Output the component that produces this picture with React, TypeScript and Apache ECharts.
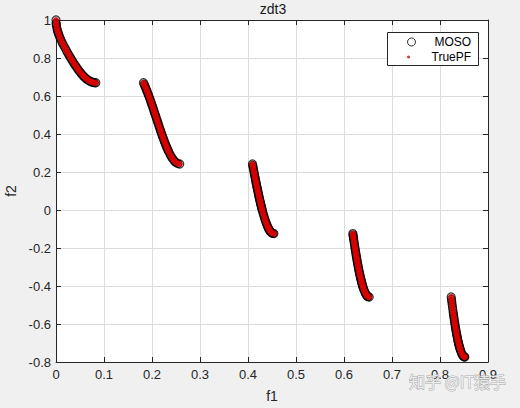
import React, { useEffect, useRef } from 'react';
import * as echarts from 'echarts';

// Pareto front segments: [f1, f2]
const seg1: number[][] = [
  [0, 1], [0.00025, 0.9842], [0.0005, 0.9776], [0.001, 0.9684], [0.002, 0.9552], [0.003, 0.9449],
  [0.004, 0.9362], [0.005, 0.9285], [0.0065, 0.9181], [0.008, 0.9086], [0.01, 0.8969],
  [0.0125, 0.8834], [0.015, 0.8707], [0.0175, 0.8586], [0.02, 0.8468], [0.0225, 0.8354],
  [0.025, 0.8242], [0.0275, 0.8133], [0.03, 0.8025], [0.0325, 0.792], [0.035, 0.7817],
  [0.0375, 0.7717], [0.04, 0.762], [0.0425, 0.7525], [0.045, 0.7434], [0.0475, 0.7347],
  [0.05, 0.7264], [0.0525, 0.7185], [0.055, 0.7112], [0.0575, 0.7043], [0.06, 0.698],
  [0.0625, 0.6923], [0.065, 0.6871], [0.0675, 0.6826], [0.07, 0.6788], [0.0725, 0.6756],
  [0.075, 0.6731], [0.0775, 0.6713], [0.08, 0.6701], [0.083, 0.6697],
];
const seg2: number[][] = [
  [0.1822, 0.6698], [0.1836, 0.662], [0.185, 0.6539], [0.18625, 0.6464], [0.1875, 0.6388],
  [0.18875, 0.6309], [0.19, 0.6228], [0.19125, 0.6146], [0.1925, 0.6062], [0.19375, 0.5976],
  [0.195, 0.5889], [0.19625, 0.5801], [0.1975, 0.5711], [0.19875, 0.562], [0.2, 0.5528],
  [0.20125, 0.5435], [0.2025, 0.5341], [0.20375, 0.5247], [0.205, 0.5151], [0.20625, 0.5056],
  [0.2075, 0.4961], [0.20875, 0.4865], [0.21, 0.4768], [0.21125, 0.4673], [0.2125, 0.4577],
  [0.21375, 0.4482], [0.215, 0.4387], [0.21625, 0.4293], [0.2175, 0.42], [0.21875, 0.4108],
  [0.22, 0.4017], [0.22125, 0.3926], [0.2225, 0.3838], [0.22375, 0.3751], [0.225, 0.3666],
  [0.22625, 0.3582], [0.2275, 0.35], [0.22875, 0.3421], [0.23, 0.3343], [0.23125, 0.3268],
  [0.2325, 0.3196], [0.23375, 0.3126], [0.235, 0.3058], [0.2375, 0.2932], [0.24, 0.2818],
  [0.2425, 0.2718], [0.245, 0.263], [0.2475, 0.2558], [0.25, 0.25], [0.254, 0.244], [0.2578, 0.2422],
];
const seg3: number[][] = [
  [0.4093, 0.2424], [0.4099, 0.2343], [0.4105, 0.2263], [0.41125, 0.2164], [0.412, 0.2064],
  [0.41275, 0.1966], [0.4135, 0.1869], [0.41425, 0.1771], [0.415, 0.1674], [0.415625, 0.1594],
  [0.41625, 0.1514], [0.416875, 0.1435], [0.4175, 0.1358], [0.418125, 0.128], [0.41875, 0.1202],
  [0.419375, 0.1126], [0.42, 0.105], [0.420625, 0.0976], [0.42125, 0.0902], [0.421875, 0.0828],
  [0.4225, 0.0756], [0.423125, 0.0684], [0.42375, 0.0614], [0.424375, 0.0544], [0.425, 0.0476],
  [0.425625, 0.0408], [0.42625, 0.0341], [0.426875, 0.0276], [0.4275, 0.0211], [0.428125, 0.0148],
  [0.42875, 0.0086], [0.429375, 0.0025], [0.43, -0.0036], [0.43125, -0.0153], [0.4325, -0.0263],
  [0.43375, -0.037], [0.435, -0.0471], [0.43625, -0.0566], [0.4375, -0.0656], [0.43875, -0.0739],
  [0.44, -0.0818], [0.44125, -0.0888], [0.4425, -0.0955], [0.44375, -0.1014], [0.445, -0.1066],
  [0.44625, -0.1112], [0.4475, -0.1151], [0.44875, -0.1183], [0.45, -0.1208], [0.452, -0.1234],
  [0.4539, -0.1242],
];
const seg4: number[][] = [
  [0.6184, -0.1242], [0.618825, -0.1317], [0.61925, -0.139], [0.619625, -0.1455], [0.62, -0.1518],
  [0.620625, -0.1623], [0.62125, -0.1729], [0.621875, -0.1831], [0.6225, -0.1933], [0.623125, -0.2034],
  [0.62375, -0.2132], [0.624375, -0.2229], [0.625, -0.2325], [0.625625, -0.2419], [0.62625, -0.2513],
  [0.626875, -0.2603], [0.6275, -0.2693], [0.628125, -0.2781], [0.62875, -0.2865], [0.629375, -0.2949],
  [0.63, -0.3034], [0.630625, -0.3115], [0.63125, -0.3194], [0.631875, -0.3271], [0.6325, -0.3346],
  [0.633125, -0.3419], [0.63375, -0.349], [0.634375, -0.3557], [0.635, -0.3627], [0.635625, -0.3689],
  [0.63625, -0.3753], [0.636875, -0.3815], [0.6375, -0.3874], [0.638125, -0.393], [0.63875, -0.3983],
  [0.639375, -0.4037], [0.64, -0.4087], [0.64125, -0.4178], [0.6425, -0.4264], [0.64375, -0.4337],
  [0.645, -0.4402], [0.64625, -0.4458], [0.6475, -0.4502], [0.64875, -0.4537], [0.65, -0.4562],
  [0.6525, -0.4583],
];
const seg5: number[][] = [
  [0.8233, -0.4577], [0.8239, -0.4698], [0.8245, -0.4819], [0.82525, -0.4965], [0.826, -0.511],
  [0.82675, -0.5251], [0.8275, -0.5389], [0.828125, -0.5502], [0.82875, -0.561], [0.829375, -0.5717],
  [0.83, -0.5825], [0.830625, -0.5928], [0.83125, -0.6029], [0.831875, -0.6127], [0.8325, -0.6222],
  [0.833125, -0.6315], [0.83375, -0.6405], [0.834375, -0.649], [0.835, -0.6578], [0.835625, -0.6657],
  [0.83625, -0.6738], [0.836875, -0.6815], [0.8375, -0.6889], [0.838125, -0.6959], [0.83875, -0.7025],
  [0.839375, -0.7092], [0.84, -0.7154], [0.840625, -0.7213], [0.84125, -0.7267], [0.841875, -0.7324],
  [0.8425, -0.7371], [0.84375, -0.7461], [0.845, -0.7538], [0.84625, -0.7604], [0.8475, -0.7655],
  [0.84875, -0.7694], [0.85, -0.772], [0.851, -0.773], [0.8518, -0.7733],
];

const mosoPoints = [...seg1, ...seg2, ...seg3, ...seg4, ...seg5];
const truePFPoints = [...seg1, ...seg2, ...seg3, ...seg4, ...seg5];

const seriesNames = ['MOSO', 'TruePF'];
const titleText = 'zdt3';
const xName = 'f1';
const yName = 'f2';
const watermark = '知乎 @IT猿手';

const FONT = '"Liberation Sans", Arial, Helvetica, sans-serif';
const INK = '#262626';
const RED = '#d80000';

export default function App() {
  const ref = useRef<HTMLDivElement>(null);
  useEffect(() => {
    document.body.style.margin = '0';
    const chart = echarts.init(ref.current!, undefined, { renderer: 'svg' });
    const baseAxis = {
      axisLine: { show: true, onZero: false, lineStyle: { color: INK, width: 1 } },
      axisTick: { show: true, inside: true, length: 5, lineStyle: { color: INK } },
    };
    chart.setOption({
      animation: false,
      backgroundColor: '#f0f0f0',
      grid: {
        left: 56, top: 20, right: 32, bottom: 46,
        outerBoundsMode: 'none', containLabel: false,
        show: true, backgroundColor: '#ffffff', borderWidth: 0,
      },
      xAxis: [
        {
          type: 'value', min: 0, max: 0.9, interval: 0.1, position: 'bottom',
          ...baseAxis,
          axisLabel: { color: INK, fontSize: 13, fontFamily: FONT, margin: 6 },
          splitLine: { show: true, lineStyle: { color: '#dcdcdc', width: 1 } },
          name: xName, nameLocation: 'middle', nameGap: 27,
          nameTextStyle: { color: INK, fontSize: 14, fontFamily: FONT },
        },
        {
          type: 'value', min: 0, max: 0.9, interval: 0.1, position: 'top',
          ...baseAxis, axisLabel: { show: false }, splitLine: { show: false },
        },
      ],
      yAxis: [
        {
          type: 'value', min: -0.8, max: 1, interval: 0.2, position: 'left',
          ...baseAxis,
          axisLabel: { color: INK, fontSize: 13, fontFamily: FONT, margin: 5 },
          splitLine: { show: true, lineStyle: { color: '#dcdcdc', width: 1 } },
          name: yName, nameLocation: 'middle', nameGap: 34,
          nameTextStyle: { color: INK, fontSize: 14, fontFamily: FONT },
        },
        {
          type: 'value', min: -0.8, max: 1, interval: 0.2, position: 'right',
          ...baseAxis, axisLabel: { show: false }, splitLine: { show: false },
        },
      ],
      legend: [
        {
          data: [{ name: seriesNames[0], icon: 'circle', itemStyle: { color: '#ffffff', borderColor: '#000000', borderWidth: 1 } }],
          left: 407, top: 36, padding: 0, itemWidth: 36, itemHeight: 8, z: 10,
          selectedMode: false,
          textStyle: { color: '#000', fontSize: 12, fontFamily: FONT },
        },
        {
          data: [{ name: seriesNames[1], icon: 'circle', itemStyle: { color: RED, borderWidth: 0 } }],
          left: 407, top: 51, padding: 0, itemWidth: 36, itemHeight: 3, z: 10,
          selectedMode: false,
          textStyle: { color: '#000', fontSize: 12, fontFamily: FONT },
        },
      ],
      graphic: [
        {
          type: 'rect', z: 5, shape: { x: 387.5, y: 32.5, width: 91, height: 33 },
          style: { fill: '#ffffff', stroke: '#262626', lineWidth: 1 },
        },
        {
          type: 'text', x: 273, y: 9, z: 5,
          style: { text: titleText, fill: '#1a1a1a', font: `14px ${FONT}`, textAlign: 'center', textVerticalAlign: 'middle' },
        },
        {
          type: 'text', x: 409, y: 381, z: 20,
          style: {
            text: watermark, fill: 'rgba(255,255,255,0.8)', stroke: 'rgba(150,150,150,0.8)', lineWidth: 1,
            font: `16px "Noto Sans CJK SC", sans-serif`, textAlign: 'left', textVerticalAlign: 'middle',
          },
        },
      ],
      series: [
        {
          name: seriesNames[0], type: 'scatter', data: mosoPoints,
          symbol: 'circle', symbolSize: 8,
          itemStyle: { color: 'rgba(255,255,255,0)', borderColor: '#000000', borderWidth: 1.2 },
          z: 2,
        },
        {
          name: seriesNames[1], type: 'scatter', data: truePFPoints,
          symbol: 'circle', symbolSize: 6,
          itemStyle: { color: RED, borderWidth: 0 },
          z: 3,
        },
      ],
    });
    return () => chart.dispose();
  }, []);
  return <div ref={ref} style={{ width: 520, height: 408 }} />;
}
